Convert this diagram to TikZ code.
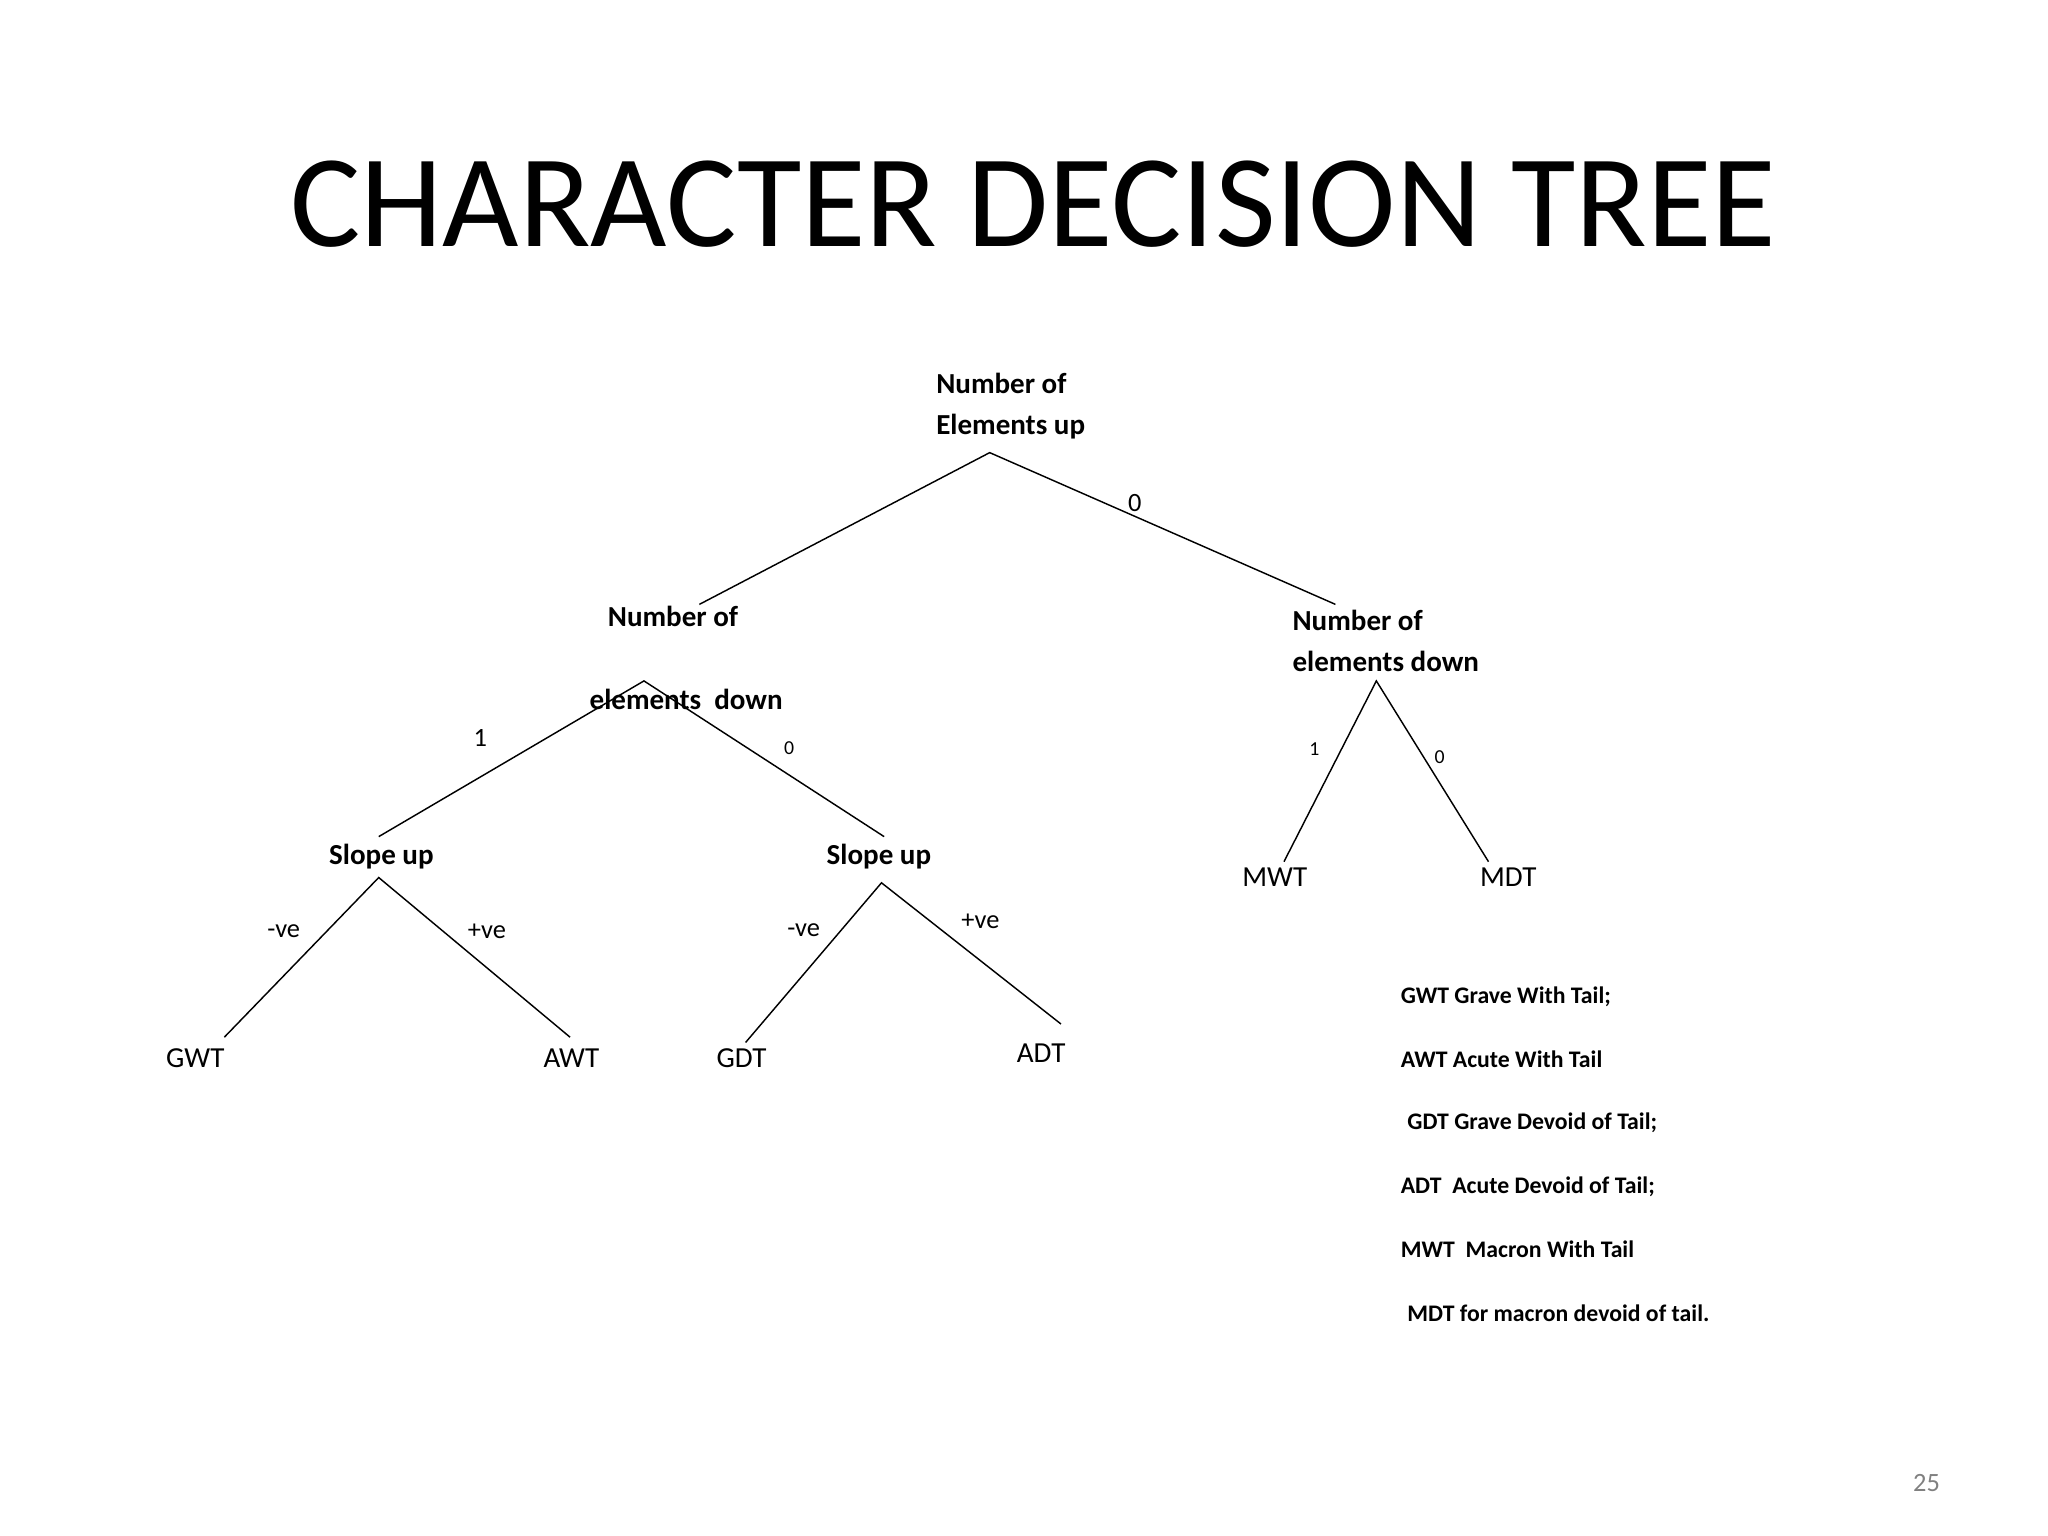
\documentclass[tikz,border=0pt]{standalone}
\usepackage{fontspec}
\setmainfont{Carlito}
\begin{document}
\begin{tikzpicture}[x=1pt,y=-1pt,
  q/.style={font=\fontsize{22}{31}\selectfont\bfseries,align=left},
  lf/.style={font=\fontsize{22}{26}\selectfont},
  lab/.style={font=\fontsize{20}{24}\selectfont},
  sm/.style={font=\fontsize{15}{18}\selectfont},
  lg/.style={font=\fontsize{18}{22}\selectfont\bfseries,anchor=west},
  ln/.style={line width=1.1pt}]
\useasboundingbox (0,0) rectangle (1552,1164);
\node (title) at (783,155) {\fontsize{100}{110}\selectfont CHARACTER DECISION TREE};
\node[q,anchor=west] (rt) at (706,308) {Number of\\Elements up};
\coordinate (ra) at (750,343);
\node[q] (l1) at (510,467) {Number of};
\node[q] (l2) at (520,530) {elements\ \ down};
\coordinate (la) at (488,516);
\node[q,anchor=west] (rn) at (976,486) {Number of\\elements down};
\coordinate (rna) at (1043,516);
\coordinate (lt) at (530,458); \coordinate (rtt) at (1012,458);
\draw[ln] (lt) -- (ra) -- (rtt);
\node[lab] at (860,381) {0};
\node[q] (s1) at (289,649) {Slope up};
\node[q] (s2) at (666,649) {Slope up};
\coordinate (s1t) at (287,634); \coordinate (s2t) at (670,634);
\draw[ln] (s1t) -- (la) -- (s2t);
\node[lab] at (364,559) {1};
\node[sm] at (598,567) {0};
\node[lf] (mwt) at (966,665) {MWT};
\node[lf] (mdt) at (1143,665) {MDT};
\coordinate (m1) at (973,653); \coordinate (m2) at (1128,653);
\draw[ln] (m1) -- (rna) -- (m2);
\node[sm] at (996,568) {1};
\node[sm] at (1091,574) {0};
\coordinate (a1) at (287,665); \coordinate (a2) at (668,669);
\coordinate (g1) at (170,786); \coordinate (g2) at (432,786);
\coordinate (g3) at (565,790); \coordinate (g4) at (804,776);
\draw[ln] (g1) -- (a1) -- (g2);
\draw[ln] (g3) -- (a2) -- (g4);
\node[lab] at (215,706) {-ve};
\node[lab] at (369,706) {+ve};
\node[lab] at (609,705) {-ve};
\node[lab] at (743,698) {+ve};
\node[lf] (gwt) at (148,802) {GWT};
\node[lf] (awt) at (433,802) {AWT};
\node[lf] (gdt) at (562,802) {GDT};
\node[lf] (adt) at (789,798) {ADT};
\node[lg] at (1058,755) {GWT Grave With Tail;};
\node[lg] at (1058,803) {AWT Acute With Tail};
\node[lg] at (1063,851) {GDT Grave Devoid of Tail;};
\node[lg] at (1058,899) {ADT\ \ Acute Devoid of Tail;};
\node[lg] at (1058,947) {MWT\ \ Macron With Tail};
\node[lg] at (1063,995) {MDT for macron devoid of tail.};
\node[text=gray,font=\fontsize{20}{24}\selectfont] at (1460,1124) {25};
\end{tikzpicture}
\end{document}
